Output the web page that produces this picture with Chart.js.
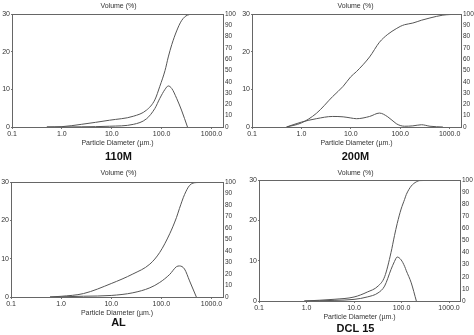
<!DOCTYPE html>
<html>
<head>
<meta charset="utf-8">
<script src="https://cdn.jsdelivr.net/npm/chart.js@4"></script>
<style>
  body { margin: 0; background: #fff; width: 474px; height: 335px; position: relative; overflow: hidden; }
  canvas { position: absolute; }
</style>
</head>
<body>
<canvas id="p110M" width="237" height="167" style="left:0;top:0"></canvas>
<canvas id="p200M" width="237" height="167" style="left:237px;top:0"></canvas>
<canvas id="pAL" width="237" height="168" style="left:0;top:167px"></canvas>
<canvas id="pDCL15" width="237" height="168" style="left:237px;top:167px"></canvas>
<script>
// particle diameter (um), frequency (% left axis), cumulative (% right axis)
const size110M = [0.5, 1, 2.5, 9, 27, 50, 73, 92, 117, 136, 160, 200, 250, 330, 500, 1700];
const freq110M = [0, 0, 0.05, 0.2, 0.7, 2.2, 4.9, 7.6, 10.0, 10.9, 10.2, 7.6, 4.5, 0, null, null];
const cum110M = [0, 0.3, 2.4, 6, 9.5, 15, 24, 36, 50, 62, 73, 85, 94, 99, 100, 100];

const size200M = [0.5, 1, 2, 4.3, 7, 10, 13, 24, 38, 56, 83, 100, 122, 180, 270, 400, 730, 1000, 1700];
const freq200M = [0, 1.3, 2.2, 2.8, 2.7, 2.4, 2.2, 2.8, 3.7, 2.7, 0.9, 0.4, 0.2, 0.3, 0.6, 0.2, 0, null, null];
const cum200M = [0, 3.6, 12, 27, 36, 44.5, 49, 62, 75, 82, 87, 89, 90.5, 92, 94.5, 96.5, 99, 99.5, 100];

const sizeAL = [0.6, 1, 2.8, 10, 27, 59, 93, 147, 200, 230, 290, 366, 500, 1700];
const freqAL = [0, 0.05, 0.2, 0.4, 1.1, 2.4, 3.8, 5.9, 7.9, 8.1, 7.3, 4.2, 0, null];
const cumAL = [0, 0.6, 3, 11.7, 20, 28.6, 38.8, 55, 69, 77, 89, 97, 99.5, 100];

const sizeDCL15 = [0.9, 3.8, 10, 19, 32, 44, 60, 71, 81, 98, 116, 126, 160, 205, 240, 1700];
const freqDCL15 = [0, 0.15, 0.4, 1, 2, 3.7, 7.8, 9.8, 10.9, 10.2, 8.6, 7.5, 4.5, 0, null, null];
const cumDCL15 = [0, 1.4, 3.3, 7.4, 12.3, 20, 40, 54, 64, 76, 84, 88, 95, 98.5, 99.5, 100];

const xTicks = [0.1, 1, 10, 100, 1000];

const panels = [
  { id: "p110M", name: "110M", area: [12, 223, 14, 127], sub: 4.5, size: size110M, freq: freq110M, cum: cum110M },
  { id: "p200M", name: "200M", area: [15, 224, 14, 127], sub: 4.5, size: size200M, freq: freq200M, cum: cum200M },
  { id: "pAL", name: "AL", area: [11, 223, 15, 130], sub: 0.5, size: sizeAL, freq: freqAL, cum: cumAL },
  { id: "pDCL15", name: "DCL 15", area: [22, 223, 13, 134], sub: 2, size: sizeDCL15, freq: freqDCL15, cum: cumDCL15 },
];

const FONT = "'Liberation Sans', Arial, sans-serif";
const ink = "#333";
const lineCol = "#555";

const frame = {
  id: "frame",
  afterDraw(chart) {
    const a = chart.chartArea, ctx = chart.ctx;
    ctx.save();
    ctx.strokeStyle = "#666";
    ctx.lineWidth = 1;
    ctx.strokeRect(Math.round(a.left) + 0.5, Math.round(a.top) + 0.5,
      Math.round(a.right - a.left), Math.round(a.bottom - a.top));
    ctx.restore();
  },
};

panels.forEach((p) => {
  const canvas = document.getElementById(p.id);
  const W = canvas.width, H = canvas.height;
  const [l, r, t, b] = p.area;
  const xH = 20;
  const subH = H - b - xH;

  new Chart(canvas, {
    type: "line",
    data: {
      datasets: [
        {
          label: "Frequency",
          data: p.size.map((d, i) => ({ x: d, y: p.freq[i] })),
          yAxisID: "y",
          borderColor: lineCol,
          borderWidth: 1,
          pointRadius: 0,
          cubicInterpolationMode: "monotone",
        },
        {
          label: "Cumulative",
          data: p.size.map((d, i) => ({ x: d, y: p.cum[i] })),
          yAxisID: "y1",
          borderColor: lineCol,
          borderWidth: 1,
          pointRadius: 0,
          cubicInterpolationMode: "monotone",
        },
      ],
    },
    options: {
      responsive: false,
      animation: false,
      layout: { padding: 0 },
      plugins: {
        legend: { display: false },
        tooltip: { enabled: false },
        title: {
          display: true,
          text: "Volume (%)",
          color: ink,
          font: { family: FONT, size: 7, weight: "normal", lineHeight: 1.2 },
          padding: { top: 2, bottom: t - 2 - 8.4 },
        },
        subtitle: {
          display: true,
          position: "bottom",
          text: p.name,
          color: "#111",
          font: { family: FONT, size: 11, weight: "bold", lineHeight: 1 },
          padding: { top: p.sub, bottom: subH - 11 - p.sub },
        },
      },
      scales: {
        x: {
          type: "logarithmic",
          min: 0.1,
          max: 1700,
          afterBuildTicks: (s) => { s.ticks = xTicks.map((v) => ({ value: v })); },
          afterFit: (s) => { s.height = xH; },
          ticks: {
            color: ink,
            font: { family: FONT, size: 7 },
            padding: 1,
            maxRotation: 0,
            autoSkip: false,
            callback: (v) => Number(v).toFixed(1),
          },
          grid: { display: true, drawOnChartArea: false, tickLength: 2, color: "#777" },
          border: { display: false },
          title: {
            display: true,
            text: "Particle Diameter (µm.)",
            color: ink,
            font: { family: FONT, size: 7, lineHeight: 1.2 },
            padding: 0,
          },
        },
        y: {
          position: "left",
          min: 0,
          max: 30,
          afterFit: (s) => { s.width = l; },
          ticks: { stepSize: 10, color: ink, font: { family: FONT, size: 7 }, padding: 1 },
          grid: { display: true, drawOnChartArea: false, tickLength: 1, color: "#777" },
          border: { display: false },
        },
        y1: {
          position: "right",
          min: 0,
          max: 100,
          afterFit: (s) => { s.width = W - r; },
          ticks: { stepSize: 10, color: ink, font: { family: FONT, size: 6.5 }, padding: 1 },
          grid: { display: true, drawOnChartArea: false, tickLength: 1, color: "#777" },
          border: { display: false },
        },
      },
    },
    plugins: [frame],
  });
});
</script>
</body>
</html>
